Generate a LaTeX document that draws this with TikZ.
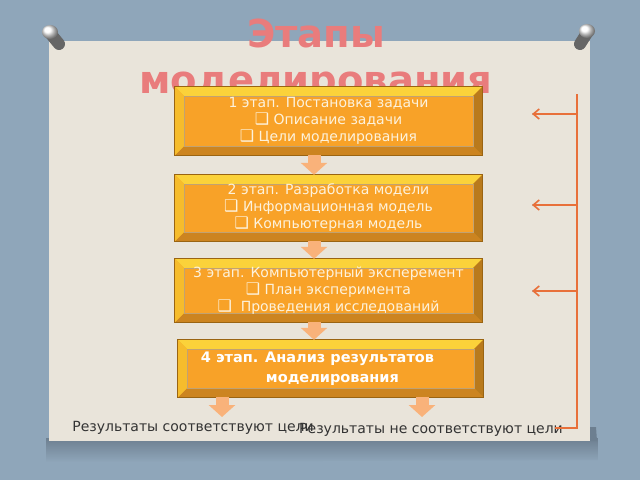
\documentclass[tikz,border=0pt]{standalone}
\usepackage{fontspec}
\setmainfont{DejaVu Sans}
\usetikzlibrary{calc,arrows.meta}
\definecolor{bgblue}{HTML}{8FA6BA}
\definecolor{paper}{HTML}{E9E4DA}
\definecolor{face}{HTML}{F8A228}
\definecolor{bevtop}{HTML}{FBD23A}
\definecolor{bevleft}{HTML}{F6BC2C}
\definecolor{bevright}{HTML}{B97A1C}
\definecolor{bevbot}{HTML}{CC8420}
\definecolor{edgecol}{HTML}{9A6412}
\definecolor{arrfill}{HTML}{F9B27A}
\definecolor{fbcol}{HTML}{E8703A}
\definecolor{txtcol}{HTML}{FDF2DC}
\definecolor{titlecol}{HTML}{E97C7C}
\definecolor{shadowcol}{HTML}{6D7F90}
\pgfdeclarelayer{back}
\pgfdeclarelayer{bevel}
\pgfsetlayers{back,bevel,main}
\newcommand{\sqbul}{{\fontsize{16}{12}\selectfont ❑}}
\newcommand{\bevelize}[1]{%
  \begin{pgfonlayer}{bevel}
  \fill[face] (#1.north west) rectangle (#1.south east);
  \fill[bevtop] (#1.north west) -- (#1.north east) -- ($(#1.north east)+(-9,-9)$) -- ($(#1.north west)+(9,-9)$) -- cycle;
  \fill[bevbot] (#1.south west) -- (#1.south east) -- ($(#1.south east)+(-9,9)$) -- ($(#1.south west)+(9,9)$) -- cycle;
  \fill[bevleft] (#1.north west) -- (#1.south west) -- ($(#1.south west)+(9,9)$) -- ($(#1.north west)+(9,-9)$) -- cycle;
  \fill[bevright] (#1.north east) -- (#1.south east) -- ($(#1.south east)+(-9,9)$) -- ($(#1.north east)+(-9,-9)$) -- cycle;
  \draw[edgecol, line width=0.8pt] (#1.north west) rectangle (#1.south east);
  \draw[edgecol!60, line width=0.4pt] ($(#1.north west)+(9,-9)$) rectangle ($(#1.south east)+(-9,9)$);
  \end{pgfonlayer}
}
\tikzset{
  stage/.style={minimum width=307pt, inner sep=0pt, text=txtcol,
    font=\fontsize{14}{17}\selectfont, align=center},
  flow/.style={draw=arrfill, line width=13pt, -{Triangle[width=26pt,length=12pt]}},
  fbline/.style={draw=fbcol, line width=1.6pt},
  fbshadow/.style={draw=gray, opacity=0.45, line width=1.6pt},
  restext/.style={text=black!80, font=\fontsize{14}{16}\selectfont, inner sep=0pt},
}
\begin{document}
\begin{tikzpicture}[x=1pt,y=1pt]
\useasboundingbox (0,0) rectangle (640,480);
\begin{pgfonlayer}{back}
% background
\fill[bgblue] (0,0) rectangle (640,480);
% paper shadow
\shade[top color=shadowcol, bottom color=bgblue] (46,18) -- (598,20) -- (598,42) -- (46,42) -- cycle;
\fill[shadowcol] (590,39) -- (597,39) -- (596,53) -- (590,53) -- cycle;
% paper
\fill[paper] (49,39) rectangle (590,439);
% pins
\draw[line width=12pt, color=black!60, line cap=round] (50,447) -- (59,436);
\shade[ball color=white] (50,448) ellipse (8 and 7);
\draw[line width=12pt, color=black!60, line cap=round] (587,447) -- (580,436);
\shade[ball color=white] (587,449) ellipse (8 and 7);
% title
\node[anchor=north, inner sep=0pt, text=titlecol, align=center,
  font=\fontsize{38.5}{46}\selectfont\bfseries] (title) at (316,461) {Этапы\\моделирования};
\end{pgfonlayer}
% stages
\node[stage, minimum height=68pt] (b1) at (328.5,359) {1 этап. Постановка задачи\\\sqbul\ Описание задачи\\\sqbul\ Цели моделирования};
\bevelize{b1}
\node[stage, minimum height=66pt] (b2) at (328.5,272) {2 этап. Разработка модели\\\sqbul\ Информационная модель\\\sqbul\ Компьютерная модель};
\bevelize{b2}
\node[stage, minimum height=63pt] (b3) at (328.5,189.5) {3 этап. Компьютерный эксперемент\\\sqbul\ План эксперимента\\\sqbul\ \ Проведения исследований};
\bevelize{b3}
\node[stage, minimum width=305pt, minimum height=57pt, text=white, align=left,
  font=\fontsize{14.5}{20}\selectfont\bfseries] (b4) at (330.5,111.5) {4 этап. Анализ результатов\hspace*{26pt}\\\hspace*{65pt}моделирования};
\bevelize{b4}
% flow arrows
\coordinate (x0) at (314,0);
\draw[flow] (b1.south -| x0) -- (b2.north -| x0);
\draw[flow] (b2.south -| x0) -- (b3.north -| x0);
\draw[flow] (b3.south -| x0) -- (b4.north -| x0);
% results
\node[restext] (t1) at (193,52) {Результаты соответствуют цели};
\node[restext] (t2) at (431,50) {Результаты не соответствуют цели};
\coordinate (a1) at (222,63);
\coordinate (a2) at (422,63);
\draw[flow] (b4.south -| a1) -- (a1);
\draw[flow] (b4.south -| a2) -- (a2);
% feedback
\coordinate (fbs) at (555,52);
\coordinate (fbb) at (577,52);
\coordinate (fbt) at (577,386);
\coordinate (k1) at (532,366);
\coordinate (k2) at (532,275);
\coordinate (k3) at (532,189);
\begin{scope}[shift={(1,-1.6)}]
\draw[fbshadow] (k1 -| fbb) -- (k1);
\draw[fbshadow] (k2 -| fbb) -- (k2);
\draw[fbshadow] (k3 -| fbb) -- (k3);
\end{scope}
\draw[fbline] (fbs) -- (fbb) -- (fbt);
\draw[fbline, -{Straight Barb[length=6pt,width=10pt]}] (k1 -| fbb) -- (k1);
\draw[fbline, -{Straight Barb[length=6pt,width=10pt]}] (k2 -| fbb) -- (k2);
\draw[fbline, -{Straight Barb[length=6pt,width=10pt]}] (k3 -| fbb) -- (k3);
\end{tikzpicture}
\end{document}
